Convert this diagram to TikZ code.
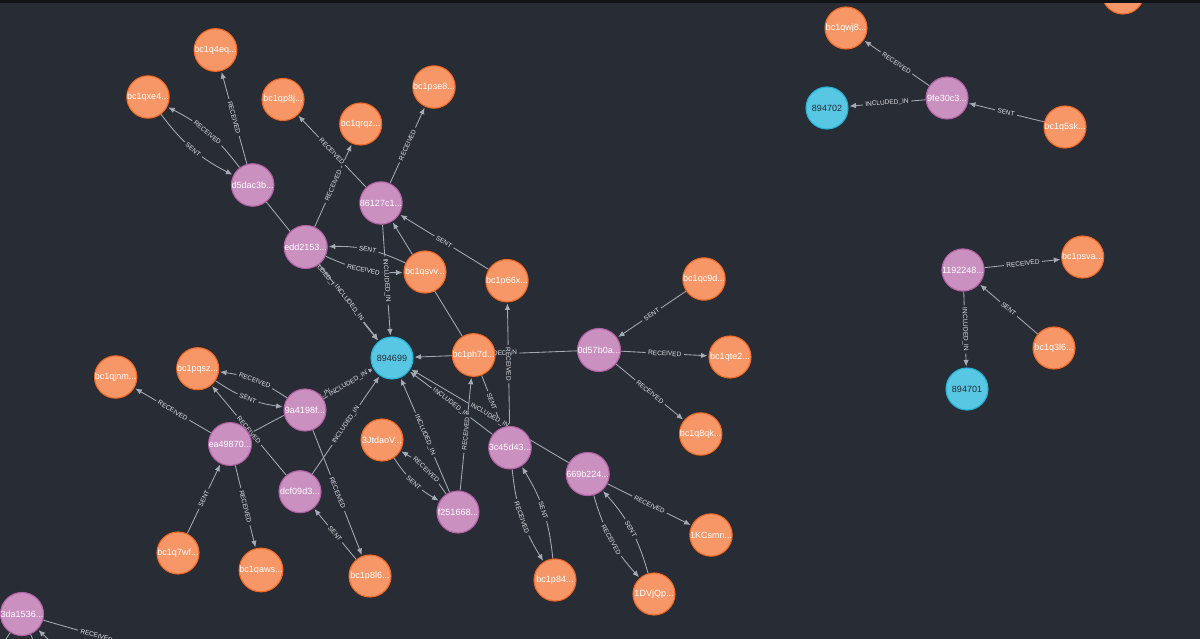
\documentclass[tikz,border=0pt]{standalone}
\usepackage{fontspec}
\setmainfont{Liberation Sans}
\usetikzlibrary{arrows.meta,backgrounds}
\definecolor{canvas}{HTML}{282C34}
\definecolor{topbar}{HTML}{121316}
\definecolor{edgegray}{HTML}{A5ABB6}
\definecolor{labelgray}{HTML}{E4E6EA}
\definecolor{addrfill}{HTML}{F79767}
\definecolor{addrline}{HTML}{F36924}
\definecolor{txnfill}{HTML}{C990C0}
\definecolor{txnline}{HTML}{B261A5}
\definecolor{blockfill}{HTML}{57C7E3}
\definecolor{blockline}{HTML}{23B3D7}

\begin{document}
\begin{tikzpicture}[x=1pt,y=-1pt,
		every node/.append style={font=\fontsize{9}{10}\selectfont},
		addr/.style={circle,minimum size=42pt,inner sep=0pt,line width=1.1pt,draw=addrline,fill=addrfill,text=white},
		txn/.style={addr,draw=txnline,fill=txnfill},
		block/.style={addr,draw=blockline,fill=blockfill,text=canvas},
		rel/.style={draw=edgegray,line width=0.85pt,-{Latex[length=6.5pt,width=5.5pt]},shorten >=1pt},
		rellabel/.style={sloped,fill=canvas,text=labelgray,inner xsep=2.5pt,inner ysep=0.5pt,font=\fontsize{6.5}{7}\selectfont},
		pair/.style={bend right=13}]
		\useasboundingbox (0,0) rectangle (1200,639);
		\begin{scope}[on background layer]
			\fill[canvas] (0,0) rectangle (1200,639);
		\end{scope}

		\node[addr] (q4eq) at (215.5,50) {bc1q4eq...};
		\node[addr] (qxe4) at (148,97) {bc1qxe4...};
		\node[addr] (qp8j) at (283,99.5) {bc1qp8j...};
		\node[addr] (qrqz) at (360.7,124) {bc1qrqz...};
		\node[addr] (pse8) at (434,87) {bc1pse8...};
		\node[addr] (qsvv) at (425,272) {bc1qsvv...};
		\node[addr] (p66x) at (507,280.7) {bc1p66x...};
		\node[addr] (qc9d) at (704,279) {bc1qc9d...};
		\node[addr] (qte2) at (730,357) {bc1qte2...};
		\node[addr] (q8qk) at (700.7,434) {bc1q8qk...};
		\node[addr] (ph7d) at (473.7,355) {bc1ph7d...};
		\node[addr] (KCsmn) at (711,535) {1KCsmn...};
		\node[addr] (DVjQp) at (654,594) {1DVjQp...};
		\node[addr] (p84) at (555,580) {bc1p84...};
		\node[addr] (Jtdao) at (382,440) {3JtdaoV...};
		\node[addr] (pqsz) at (197.7,368.7) {bc1pqsz...};
		\node[addr] (qjnm) at (115.7,377) {bc1qjnm...};
		\node[addr] (q7wf) at (178,553) {bc1q7wf...};
		\node[addr] (qaws) at (261,570) {bc1qaws...};
		\node[addr] (p8l6) at (370,576) {bc1p8l6...};
		\node[addr] (qwj8) at (846,28) {bc1qwj8...};
		\node[addr] (q5sk) at (1065,127) {bc1q5sk...};
		\node[addr] (pcut) at (1123,-7) {};
		\node[addr] (psva) at (1082.7,257) {bc1psva...};
		\node[addr] (q3l6) at (1054,348) {bc1q3l6...};

		\node[txn] (d5dac) at (252.7,185) {d5dac3b...};
		\node[txn] (t86127) at (381,203) {86127c1...};
		\node[txn] (edd) at (305.7,247) {edd2153...};
		\node[txn] (t0d57) at (599,350) {0d57b0a...};
		\node[txn] (t3c45) at (510,447.7) {3c45d43...};
		\node[txn] (t669b) at (587.7,474) {669b224...};
		\node[txn] (f251) at (458,512) {f251668...};
		\node[txn] (t9a41) at (305,410) {9a4198f...};
		\node[txn] (ea49) at (230,444) {ea49870...};
		\node[txn] (dcf0) at (300,491.7) {dcf09d3...};
		\node[txn] (t9fe3) at (947,98) {9fe30c3...};
		\node[txn] (t1192) at (963,270) {1192248...};
		\node[txn] (t3da1) at (22,614) {3da1536...};

		\node[block] (b699) at (392,358) {894699};
		\node[block] (b702) at (827,108) {894702};
		\node[block] (b701) at (967,389) {894701};

		\coordinate (outa) at (150,651);
		\coordinate (outb) at (90,680);
		\coordinate (outc) at (-20,680);
		\coordinate (outd) at (50,680);

		\fill[topbar] (0,0) rectangle (1200,3);

		\begin{scope}[on background layer]
			\draw[rel] (d5dac) -- node[rellabel] {RECEIVED} (q4eq);
			\draw[rel] (d5dac) to[pair] node[rellabel] {RECEIVED} (qxe4);
			\draw[rel] (qxe4) to[pair] node[rellabel] {SENT} (d5dac);
			\draw[rel] (d5dac) -- node[rellabel] {INCLUDED\_IN} (b699);
			\draw[rel] (edd) -- node[rellabel] {INCLUDED\_IN} (b699);
			\draw[rel] (edd) -- node[rellabel] {RECEIVED} (qrqz);
			\draw[rel] (edd) to[pair] node[rellabel] {RECEIVED} (qsvv);
			\draw[rel] (qsvv) to[pair] node[rellabel] {SENT} (edd);
			\draw[rel] (t86127) -- node[rellabel] {RECEIVED} (qp8j);
			\draw[rel] (t86127) -- node[rellabel] {RECEIVED} (pse8);
			\draw[rel] (t86127) -- node[rellabel] {INCLUDED\_IN} (b699);
			\draw[rel] (p66x) -- node[rellabel] {SENT} (t86127);
			\draw[rel] (ph7d) -- (t86127);
			\draw[rel] (t0d57) -- node[rellabel] {INCLUDED\_IN} (b699);
			\draw[rel] (t0d57) -- node[rellabel] {RECEIVED} (qte2);
			\draw[rel] (t0d57) -- node[rellabel] {RECEIVED} (q8qk);
			\draw[rel] (qc9d) -- node[rellabel] {SENT} (t0d57);
			\draw[rel] (t3c45) -- node[rellabel] {RECEIVED} (p66x);
			\draw[rel] (ph7d) -- node[rellabel] {SENT} (t3c45);
			\draw[rel] (t669b) -- node[rellabel] {INCLUDED\_IN} (b699);
			\draw[rel] (t3c45) -- node[rellabel] {INCLUDED\_IN} (b699);
			\draw[rel] (t3c45) to[pair] node[rellabel] {RECEIVED} (p84);
			\draw[rel] (p84) to[pair] node[rellabel] {SENT} (t3c45);
			\draw[rel] (t669b) to[pair] node[rellabel] {RECEIVED} (DVjQp);
			\draw[rel] (DVjQp) to[pair] node[rellabel] {SENT} (t669b);
			\draw[rel] (t669b) -- node[rellabel] {RECEIVED} (KCsmn);
			\draw[rel] (f251) -- node[rellabel] {RECEIVED} (ph7d);
			\draw[rel] (f251) -- node[rellabel] {INCLUDED\_IN} (b699);
			\draw[rel] (f251) to[pair] node[rellabel] {RECEIVED} (Jtdao);
			\draw[rel] (Jtdao) to[pair] node[rellabel] {SENT} (f251);
			\draw[rel] (t9a41) to[pair] node[rellabel] {RECEIVED} (pqsz);
			\draw[rel] (pqsz) to[pair] node[rellabel] {SENT} (t9a41);
			\draw[rel] (ea49) -- node[rellabel] {INCLUDED\_IN} (b699);
			\draw[rel] (t9a41) -- node[rellabel] {INCLUDED\_IN} (b699);
			\draw[rel] (t9a41) -- node[rellabel] {RECEIVED} (p8l6);
			\draw[rel] (ea49) -- node[rellabel] {RECEIVED} (qjnm);
			\draw[rel] (ea49) -- node[rellabel] {RECEIVED} (qaws);
			\draw[rel] (q7wf) -- node[rellabel] {SENT} (ea49);
			\draw[rel] (dcf0) -- node[rellabel] {RECEIVED} (pqsz);
			\draw[rel] (dcf0) -- node[rellabel] {INCLUDED\_IN} (b699);
			\draw[rel] (p8l6) -- node[rellabel] {SENT} (dcf0);
			\draw[rel] (t9fe3) -- node[rellabel] {RECEIVED} (qwj8);
			\draw[rel] (t9fe3) -- node[rellabel] {INCLUDED\_IN} (b702);
			\draw[rel] (q5sk) -- node[rellabel] {SENT} (t9fe3);
			\draw[rel] (t1192) -- node[rellabel] {RECEIVED} (psva);
			\draw[rel] (t1192) -- node[rellabel] {INCLUDED\_IN} (b701);
			\draw[rel] (q3l6) -- node[rellabel] {SENT} (t1192);
			\draw[rel] (t3da1) -- node[rellabel] {RECEIVED} (outa);
			\draw[rel] (outb) -- (t3da1);
			\draw[rel] (t3da1) -- (outc);
			\draw[rel] (t3da1) -- (outd);
		\end{scope}
	\end{tikzpicture}
\end{document}
